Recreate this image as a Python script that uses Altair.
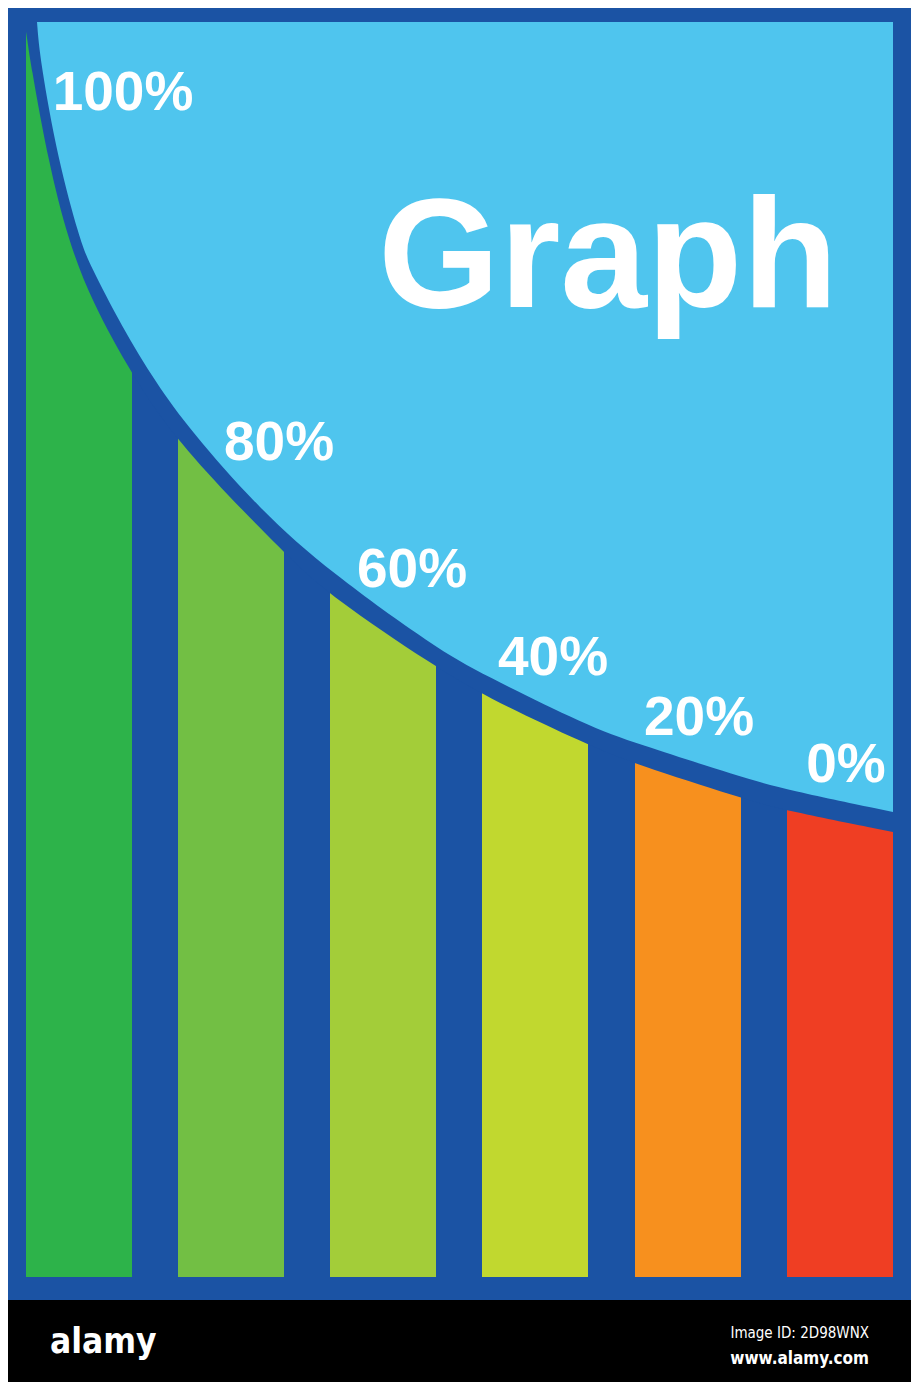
import altair as alt
import pandas as pd

DARK = "#1B53A4"
SKY = "#4FC5EE"

# Bars (left/right edges, colours) in picture pixel units
bar_left = [26, 178, 330, 482, 635, 787]
bar_right = [132, 284, 436, 588, 741, 893]
bar_colors = ["#2DB34A", "#72BF44", "#A3CD39", "#C1D82F", "#F7901E", "#EF3E23"]
frame_top = 22
bar_bottom = 1277

# lower edge of the dark curve (tops of the bars)
edge_x = [26, 27, 30, 48, 68, 92, 132, 178, 284, 330, 436, 482, 588, 635, 741, 787, 893]
edge_y = [32, 37, 60, 160, 240, 302, 375, 444, 553, 596, 667, 695, 745, 764, 798, 811, 832]

# upper edge of the dark curve (bottom of the light-blue sky)
sky_x = [37, 40, 58, 80, 89, 122, 156, 190, 260, 330, 436, 482, 588, 635, 741, 787, 893]
sky_y = [22, 60, 160, 240, 263, 327, 383, 430, 510, 572, 648, 674, 726, 743, 777, 790, 812]

# percent labels
pct_labels = ["100%", "80%", "60%", "40%", "20%", "0%"]
label_x = [123, 279, 412, 553, 699, 846]
label_y = [110, 460, 587, 675, 735, 782]

title_text = ["Graph"]
title_x = [608]
title_y = [307]

band_top = 1300
band_bottom = 1390

xs = alt.Scale(domain=[8, 911], nice=False, zero=False)
ys = alt.Scale(domain=[8, 1382], nice=False, zero=False, reverse=True)

bars_df = pd.DataFrame({"x0": bar_left, "x1": bar_right, "color": bar_colors,
                        "top": [frame_top] * 6, "bottom": [bar_bottom] * 6})
edge_df = pd.DataFrame({"x": edge_x, "y": edge_y, "top": [frame_top] * len(edge_x)})
sky_df = pd.DataFrame({"x": sky_x, "y": sky_y, "top": [frame_top] * len(sky_x)})
lab_df = pd.DataFrame({"x": label_x, "y": label_y, "t": pct_labels})
title_df = pd.DataFrame({"x": title_x, "y": title_y, "t": title_text})
band_df = pd.DataFrame({"x0": [8], "x1": [911], "y0": [band_top], "y1": [band_bottom]})
foot_df = pd.DataFrame({
    "x": [50, 869, 869],
    "y": [1353, 1338, 1364],
    "t": ["alamy", "Image ID: 2D98WNX", "www.alamy.com"],
})

NARROW = "Liberation Sans Narrow, DejaVu Sans Condensed, sans-serif"

bars = alt.Chart(bars_df).mark_rect(clip=True).encode(
    x=alt.X("x0:Q", scale=xs, axis=None), x2="x1",
    y=alt.Y("top:Q", scale=ys, axis=None), y2="bottom",
    color=alt.Color("color:N", scale=None),
)

mask = alt.Chart(edge_df).mark_area(color=DARK, interpolate="basis", orient="vertical", clip=True).encode(
    x=alt.X("x:Q", scale=xs, axis=None),
    y=alt.Y("y:Q", scale=ys, axis=None), y2="top",
)

sky = alt.Chart(sky_df).mark_area(color=SKY, interpolate="basis", orient="vertical", clip=True).encode(
    x=alt.X("x:Q", scale=xs, axis=None),
    y=alt.Y("y:Q", scale=ys, axis=None), y2="top",
)

labels = alt.Chart(lab_df).mark_text(
    align="center", baseline="alphabetic", font="Liberation Sans",
    fontWeight="bold", fontSize=55, color="white",
).encode(
    x=alt.X("x:Q", scale=xs, axis=None),
    y=alt.Y("y:Q", scale=ys, axis=None), text="t:N",
)

title = alt.Chart(title_df).mark_text(
    align="center", baseline="alphabetic", font="Liberation Sans",
    fontWeight="bold", fontSize=156, color="white",
).encode(
    x=alt.X("x:Q", scale=xs, axis=None),
    y=alt.Y("y:Q", scale=ys, axis=None), text="t:N",
)

band = alt.Chart(band_df).mark_rect(color="#000000", clip=True).encode(
    x=alt.X("x0:Q", scale=xs, axis=None), x2="x1",
    y=alt.Y("y0:Q", scale=ys, axis=None), y2="y1",
)

logo = alt.Chart(foot_df.iloc[[0]]).mark_text(
    align="left", baseline="alphabetic", font=NARROW,
    fontWeight="bold", fontSize=35, color="white",
).encode(
    x=alt.X("x:Q", scale=xs, axis=None),
    y=alt.Y("y:Q", scale=ys, axis=None), text="t:N",
)

imgid = alt.Chart(foot_df.iloc[[1]]).mark_text(
    align="right", baseline="alphabetic", font=NARROW,
    fontSize=15, color="white",
).encode(
    x=alt.X("x:Q", scale=xs, axis=None),
    y=alt.Y("y:Q", scale=ys, axis=None), text="t:N",
)

www = alt.Chart(foot_df.iloc[[2]]).mark_text(
    align="right", baseline="alphabetic", font=NARROW,
    fontWeight="bold", fontSize=17, color="white",
).encode(
    x=alt.X("x:Q", scale=xs, axis=None),
    y=alt.Y("y:Q", scale=ys, axis=None), text="t:N",
)

chart = alt.layer(bars, mask, sky, labels, title, band, logo, imgid, www).properties(
    width=903, height=1374, background=DARK, padding=0, autosize="none",
).configure_view(stroke=None)

chart.save("out.html", embed_options={"renderer": "svg", "actions": False})
